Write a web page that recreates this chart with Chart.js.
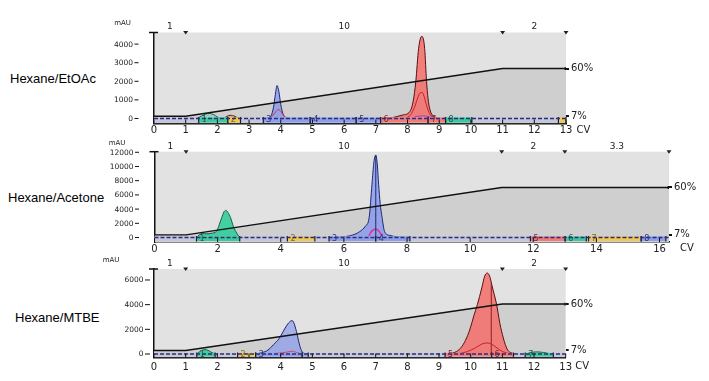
<!DOCTYPE html>
<html>
<head>
<meta charset="utf-8">
<script src="https://cdn.jsdelivr.net/npm/chart.js@4.4.1/dist/chart.umd.min.js"></script>
<style>
  body { margin: 0; width: 709px; height: 381px; background: #fff; position: relative; overflow: hidden; }
  canvas { position: absolute; left: 0; }
  .solvent { position: absolute; font: 13px "Liberation Sans", Arial, sans-serif; color: #000; white-space: nowrap; transform: translateY(-50%); }
</style>
</head>
<body>
<div class="solvent" style="left:10px;top:78px">Hexane/EtOAc</div>
<div class="solvent" style="left:8px;top:197px">Hexane/Acetone</div>
<div class="solvent" style="left:15px;top:317px">Hexane/MTBE</div>
<canvas id="c1" width="709" height="138" style="top:0;width:709px;height:138px"></canvas>
<canvas id="c2" width="709" height="118" style="top:138px;width:709px;height:118px"></canvas>
<canvas id="c3" width="709" height="125" style="top:256px;width:709px;height:125px"></canvas>
<script>
// ---- Hexane/EtOAc ----
const eaTicksX = [0, 1, 2, 3, 4, 5, 6, 7, 8, 9, 10, 11, 12, 13];
const eaTicksY = [0, 1000, 2000, 3000, 4000];
const eaGradX = [0, 1, 11, 13];
const eaGradY = [7, 7, 60, 60];
const eaSegments = [0, 1, 11, 13];
const eaSegLabels = ['1', '10', '2'];
const eaGreenX = [1.35, 1.5, 1.62, 1.75, 1.88, 2.0, 2.12];
const eaGreenY = [0, 130, 230, 270, 210, 80, 0];
const eaRedBumpX = [2.2, 2.3, 2.4, 2.5, 2.6, 2.7];
const eaRedBumpY = [0, 110, 170, 150, 70, 0];
const eaBlueX = [3.45, 3.6, 3.7, 3.77, 3.83, 3.88, 3.94, 4.0, 4.07, 4.15, 4.3];
const eaBlueY = [0, 40, 160, 600, 1300, 1770, 1450, 750, 250, 60, 0];
const eaBlueInnerX = [3.6, 3.75, 3.85, 3.93, 4.02, 4.12, 4.25];
const eaBlueInnerY = [0, 150, 380, 480, 330, 100, 0];
const eaRedX = [7.2, 7.5, 7.85, 8.07, 8.18, 8.26, 8.35, 8.45, 8.54, 8.6, 8.66, 8.72, 8.8, 8.95];
const eaRedY = [0, 40, 190, 365, 950, 1980, 3770, 4420, 3770, 1980, 900, 400, 150, 0];
const eaRedInnerX = [7.9, 8.1, 8.22, 8.32, 8.4, 8.46, 8.52, 8.6, 8.7, 8.85];
const eaRedInnerY = [0, 200, 600, 1100, 1380, 1400, 1200, 700, 250, 0];
const eaPurpleX = [8.1, 8.3, 8.5, 8.7, 8.9];
const eaPurpleY = [0, 110, 140, 90, 0];
const eaFracStart = [1.41, 2.33, 3.45, 4.93, 6.38, 7.15, 8.65, 9.2, 12.76];
const eaFracEnd = [2.33, 2.73, 4.93, 6.38, 7.15, 8.65, 9.2, 10.03, 13.0];
const eaFracLabel = ['1', '2', '3', '4', '5', '6', '7', '8', ''];
const eaFracKind = ['green', 'yellow', 'blue', 'blue', 'blue', 'red', 'red', 'green', 'yellow'];

// ---- Hexane/Acetone ----
const acTicksX = [0, 2, 4, 6, 8, 10, 12, 14, 16];
const acTicksY = [0, 2000, 4000, 6000, 8000, 10000, 12000];
const acGradX = [0, 1, 11, 16.3];
const acGradY = [7, 7, 60, 60];
const acSegments = [0, 1, 11, 13, 16.3];
const acSegLabels = ['1', '10', '2', '3.3'];
const acGreenX = [1.33, 1.42, 1.52, 1.65, 1.8, 1.97, 2.05, 2.13, 2.2, 2.26, 2.33, 2.41, 2.48, 2.58, 2.7];
const acGreenY = [0, 380, 580, 520, 600, 900, 1800, 2800, 3600, 3820, 3500, 2800, 1800, 800, 0];
const acBlueX = [5.55, 5.9, 6.2, 6.5, 6.68, 6.8, 6.89, 6.95, 7.01, 7.06, 7.1, 7.15, 7.21, 7.29, 7.45, 7.7, 8.08];
const acBlueY = [0, 80, 250, 830, 1600, 2800, 7500, 10600, 11600, 10200, 7500, 4800, 2800, 830, 300, 100, 0];
const acMagX = [6.78, 6.84, 6.92, 7.0, 7.08, 7.16, 7.22];
const acMagY = [0, 650, 1050, 1150, 1050, 600, 0];
const acCutX = [7.01, 7.01];
const acCutY = [0, 11600];
const acFracStart = [1.33, 4.21, 5.53, 7.01, 11.91, 13.01, 13.75, 15.42];
const acFracEnd = [2.7, 5.08, 7.01, 8.09, 13.01, 13.68, 15.42, 16.2];
const acFracLabel = ['1', '2', '3', '4', '5', '6', '7', '8'];
const acFracKind = ['green', 'yellow', 'blue', 'blue', 'red', 'green', 'yellow', 'blue'];

// ---- Hexane/MTBE ----
const mbTicksX = [0, 1, 2, 3, 4, 5, 6, 7, 8, 9, 10, 11, 12, 13];
const mbTicksY = [0, 2000, 4000, 6000];
const mbGradX = [0, 1, 11, 13];
const mbGradY = [7, 7, 60, 60];
const mbSegments = [0, 1, 11, 13];
const mbSegLabels = ['1', '10', '2'];
const mbGreenX = [1.35, 1.45, 1.53, 1.61, 1.7, 1.8, 1.93];
const mbGreenY = [0, 200, 320, 350, 310, 150, 0];
const mbBlueX = [3.2, 3.4, 3.6, 3.77, 3.95, 4.08, 4.2, 4.3, 4.36, 4.42, 4.5, 4.58, 4.66, 4.76];
const mbBlueY = [0, 100, 320, 750, 1250, 1830, 2350, 2640, 2710, 2500, 1800, 900, 250, 0];
const mbBlueInnerX = [3.6, 3.9, 4.15, 4.3, 4.38, 4.5, 4.7];
const mbBlueInnerY = [0, 60, 130, 200, 230, 120, 0];
const mbRedX = [9.3, 9.55, 9.72, 9.87, 10.0, 10.1, 10.21, 10.35, 10.44, 10.52, 10.6, 10.69, 10.82, 10.92, 11.03, 11.15, 11.35];
const mbRedY = [0, 200, 600, 1300, 2200, 3100, 4000, 5350, 6300, 6560, 6300, 5350, 4000, 2500, 1300, 400, 0];
const mbRedInnerX = [9.6, 9.9, 10.15, 10.35, 10.5, 10.62, 10.8, 11.0, 11.25];
const mbRedInnerY = [0, 200, 500, 800, 890, 850, 550, 200, 0];
const mbCutX = [10.65, 10.65];
const mbCutY = [0, 5800];
const mbGreen2X = [11.75, 11.9, 12.1, 12.3, 12.55];
const mbGreen2Y = [0, 120, 170, 120, 0];
const mbFracStart = [1.35, 2.64, 3.21, 4.68, 9.19, 10.66, 11.72];
const mbFracEnd = [1.93, 3.21, 4.68, 4.87, 10.66, 11.35, 12.61];
const mbFracLabel = ['1', '2', '3', '', '5', '6', '7'];
const mbFracKind = ['green', 'yellow', 'blue', 'blue', 'red', 'red', 'green'];

const FONT = '"DejaVu Sans", sans-serif';
const KIND = {
    green: { fill: 'rgba(30,205,145,0.85)', peak: 'rgba(40,205,150,0.85)', line: '#1b5e45', text: '#176048' },
    yellow: { fill: 'rgb(242,200,80)', peak: 'rgba(242,200,80,0.8)', line: '#7a5a10', text: '#8a6a10' },
    blue: { fill: 'rgb(140,158,238)', peak: 'rgba(125,145,240,0.72)', line: '#1f2670', text: '#2a3380' },
    red: { fill: 'rgb(243,122,120)', peak: 'rgba(245,105,100,0.82)', line: '#5a1010', text: '#8a2020' }
};

function pts(xs, ys) {
    return xs.map((x, i) => ({ x, y: ys[i] }));
}

function peak(xs, ys, kind, alpha) {
    const k = KIND[kind];
    return {
        data: pts(xs, ys), yAxisID: 'y', fill: 'origin',
        backgroundColor: alpha || k.peak, borderColor: k.line, borderWidth: 1,
        pointRadius: 0, cubicInterpolationMode: 'monotone', order: 5
    };
}

function trace(xs, ys, color, width) {
    return {
        data: pts(xs, ys), yAxisID: 'y', fill: false, borderColor: color,
        borderWidth: width || 1, pointRadius: 0, cubicInterpolationMode: 'monotone', order: 4
    };
}

function makePlugin(p) {
    return {
        id: 'panel',
        beforeDraw(chart) {
            const a = chart.chartArea, c = chart.ctx;
            c.save();
            c.fillStyle = '#e2e2e2';
            c.fillRect(a.left, a.top, a.right - a.left, a.bottom - a.top);
            c.restore();
        },
        beforeDatasetDraw(chart, args) {
            if (!chart.data.datasets[args.index].baseline)
                return;
            // fraction band along the bottom
            const a = chart.chartArea, c = chart.ctx;
            const xs = chart.scales.x, ys = chart.scales.y;
            const top = ys.getPixelForValue(0) - 1;
            const h = a.bottom - 1 - top;
            c.save();
            c.fillStyle = '#c5c5dc';
            c.fillRect(a.left, top, a.right - a.left, h);
            p.fracStart.forEach((s, i) => {
                const x0 = xs.getPixelForValue(s);
                const x1 = xs.getPixelForValue(p.fracEnd[i]);
                const k = KIND[p.fracKind[i]];
                c.fillStyle = k.fill;
                c.fillRect(x0, top, x1 - x0, h);
                c.fillStyle = '#1c1c30';
                c.fillRect(x0 - 0.6, top - 0.5, 1.2, h + 1);
                c.fillRect(x1 - 0.6, top - 0.5, 1.2, h + 1);
                if (p.fracLabel[i]) {
                    c.font = '8px ' + FONT;
                    c.fillStyle = k.text;
                    c.textBaseline = 'middle';
                    c.textAlign = 'left';
                    c.fillText(p.fracLabel[i], x0 + 3, top + h / 2);
                }
            });
            c.restore();
        },
        afterDraw(chart) {
            const a = chart.chartArea, c = chart.ctx;
            const xs = chart.scales.x, ys = chart.scales.y;
            c.save();
            c.fillStyle = '#111';
            c.strokeStyle = '#111';
            // y axis top cap
            c.lineWidth = 1.5;
            c.beginPath();
            c.moveTo(a.left - 5, a.top);
            c.lineTo(a.left + 4, a.top);
            c.stroke();
            // y tick labels with their dashes
            c.lineWidth = 1;
            c.font = '7.5px ' + FONT;
            c.textAlign = 'right';
            c.textBaseline = 'middle';
            p.ticksY.forEach(v => {
                const y = ys.getPixelForValue(v);
                c.fillStyle = '#222';
                c.fillText(String(v), a.left - p.dash[0] - 1.5, y + 0.5);
                c.beginPath();
                c.moveTo(a.left - p.dash[0], y);
                c.lineTo(a.left - p.dash[1], y);
                c.stroke();
            });
            // x tick marks pointing inward
            p.ticksX.forEach(v => {
                const x = xs.getPixelForValue(v);
                c.beginPath();
                c.moveTo(x, a.bottom);
                c.lineTo(x, a.bottom - 4);
                c.stroke();
            });
            // segment labels and markers
            c.font = '9px ' + FONT;
            c.textAlign = 'center';
            c.fillStyle = '#222';
            p.seg.forEach((s, i) => {
                if (i < p.segLabels.length) {
                    const mid = xs.getPixelForValue((s + p.seg[i + 1]) / 2);
                    c.fillText(p.segLabels[i], mid, a.top - 5.5);
                }
                if (i > 0) {
                    const x = xs.getPixelForValue(s);
                    c.beginPath();
                    c.moveTo(x - 2.5, a.top - 1.5);
                    c.lineTo(x + 2.5, a.top - 1.5);
                    c.lineTo(x, a.top + 2);
                    c.closePath();
                    c.fill();
                }
            });
            // unit labels
            c.font = '7px ' + FONT;
            c.fillText('mAU', a.left + p.mauDx, a.top - 9);
            c.font = '10px ' + FONT;
            c.textAlign = 'left';
            c.fillText('CV', a.right + p.cvDx, a.bottom + p.cvDy);
            c.restore();
        }
    };
}

function makePanel(id, p) {
    const datasets = [
        {
            data: pts(p.gradX, p.gradY), yAxisID: 'grad', fill: 'start',
            backgroundColor: '#cfcfcf', borderWidth: 0, pointRadius: 0, order: 10
        },
        ...p.series,
        {
            data: pts([0, p.xMax], [0, 0]), yAxisID: 'y', baseline: true,
            borderColor: '#2b2f7a', borderWidth: 1.3, borderDash: [4, 2],
            pointRadius: 0, fill: false, order: 1
        },
        {
            data: pts(p.gradX, p.gradY), yAxisID: 'grad', fill: false,
            borderColor: '#111', borderWidth: 1.4,
            pointRadius: ctx => ctx.dataIndex === p.gradX.length - 1 ? 2 : 0,
            pointStyle: 'rect', pointBackgroundColor: '#111', pointBorderWidth: 0, order: 0
        }
    ];
    new Chart(document.getElementById(id), {
        type: 'line',
        data: { datasets },
        plugins: [makePlugin(p)],
        options: {
            responsive: false,
            devicePixelRatio: 1,
            animation: false,
            layout: { padding: { top: p.top, left: 0, right: 0, bottom: 0 } },
            plugins: { legend: { display: false }, tooltip: { enabled: false } },
            scales: {
                x: {
                    type: 'linear', min: 0, max: p.xMax,
                    afterBuildTicks: s => { s.ticks = p.ticksX.map(v => ({ value: v })); },
                    afterFit: s => { s.height = p.xH; },
                    ticks: { font: { size: 10, family: FONT }, color: '#222', padding: p.xPad, maxRotation: 0, autoSkip: false },
                    grid: { display: false, drawTicks: false },
                    border: { display: true, color: '#111', width: 1.5 }
                },
                y: {
                    position: 'left', min: p.yMin, max: p.yMax,
                    afterBuildTicks: s => { s.ticks = p.ticksY.map(v => ({ value: v })); },
                    afterFit: s => { s.width = p.left; },
                    ticks: { display: false, padding: 0 },
                    grid: { display: false, drawTicks: false },
                    border: { display: true, color: '#111', width: 1.5 }
                },
                grad: {
                    position: 'right', min: -1, max: 100,
                    afterBuildTicks: s => { s.ticks = [7, 60].map(v => ({ value: v })); },
                    afterFit: s => { s.width = p.right; },
                    ticks: { font: { size: 10, family: FONT }, color: '#222', padding: 2, callback: v => v + '%' },
                    grid: { display: true, drawOnChartArea: false, drawTicks: true, tickLength: 3, color: '#111', lineWidth: 2 },
                    border: { display: false }
                }
            }
        }
    });
}

makePanel('c1', {
    xMax: 13, yMin: -270, yMax: 4625, ticksX: eaTicksX, ticksY: eaTicksY,
    gradX: eaGradX, gradY: eaGradY, seg: eaSegments, segLabels: eaSegLabels,
    fracStart: eaFracStart, fracEnd: eaFracEnd, fracLabel: eaFracLabel, fracKind: eaFracKind,
    top: 32.5, left: 154, right: 143, xH: 14.5, xPad: 1, dash: [19.5, 15.5],
    mauDx: -31.5, cvDx: 10.5, cvDy: 6.5,
    series: [
        peak(eaGreenX, eaGreenY, 'green', 'rgba(40,205,150,0.3)'),
        peak(eaRedBumpX, eaRedBumpY, 'red', 'rgba(245,105,100,0.3)'),
        peak(eaBlueX, eaBlueY, 'blue'),
        trace(eaBlueInnerX, eaBlueInnerY, '#e0303a'),
        peak(eaRedX, eaRedY, 'red'),
        trace(eaRedInnerX, eaRedInnerY, '#c81e28'),
        trace(eaPurpleX, eaPurpleY, '#8a4ad0')
    ]
});

makePanel('c2', {
    xMax: 16.3, yMin: -630, yMax: 12080, ticksX: acTicksX, ticksY: acTicksY,
    gradX: acGradX, gradY: acGradY, seg: acSegments, segLabels: acSegLabels,
    fracStart: acFracStart, fracEnd: acFracEnd, fracLabel: acFracLabel, fracKind: acFracKind,
    top: 13.7, left: 154.5, right: 40, xH: 14, xPad: 1.5, dash: [19.5, 15.5],
    mauDx: -37.5, cvDx: 11, cvDy: 6.5,
    series: [
        peak(acGreenX, acGreenY, 'green'),
        peak(acBlueX, acBlueY, 'blue'),
        trace(acCutX, acCutY, '#1f2670'),
        trace(acMagX, acMagY, '#e0309a', 1.5)
    ]
});

makePanel('c3', {
    xMax: 13, yMin: -285, yMax: 6890, ticksX: mbTicksX, ticksY: mbTicksY,
    gradX: mbGradX, gradY: mbGradY, seg: mbSegments, segLabels: mbSegLabels,
    fracStart: mbFracStart, fracEnd: mbFracEnd, fracLabel: mbFracLabel, fracKind: mbFracKind,
    top: 13, left: 154, right: 143.3, xH: 23.5, xPad: 3.5, dash: [9, 4],
    mauDx: -43, cvDx: 9.5, cvDy: 8.5,
    series: [
        peak(mbGreenX, mbGreenY, 'green'),
        peak(mbBlueX, mbBlueY, 'blue', 'rgba(125,145,240,0.6)'),
        trace(mbBlueInnerX, mbBlueInnerY, '#d8406a'),
        peak(mbRedX, mbRedY, 'red'),
        trace(mbRedInnerX, mbRedInnerY, '#c81e28'),
        trace(mbCutX, mbCutY, '#8a2020'),
        peak(mbGreen2X, mbGreen2Y, 'green', 'rgba(40,205,150,0.6)')
    ]
});
</script>
</body>
</html>
